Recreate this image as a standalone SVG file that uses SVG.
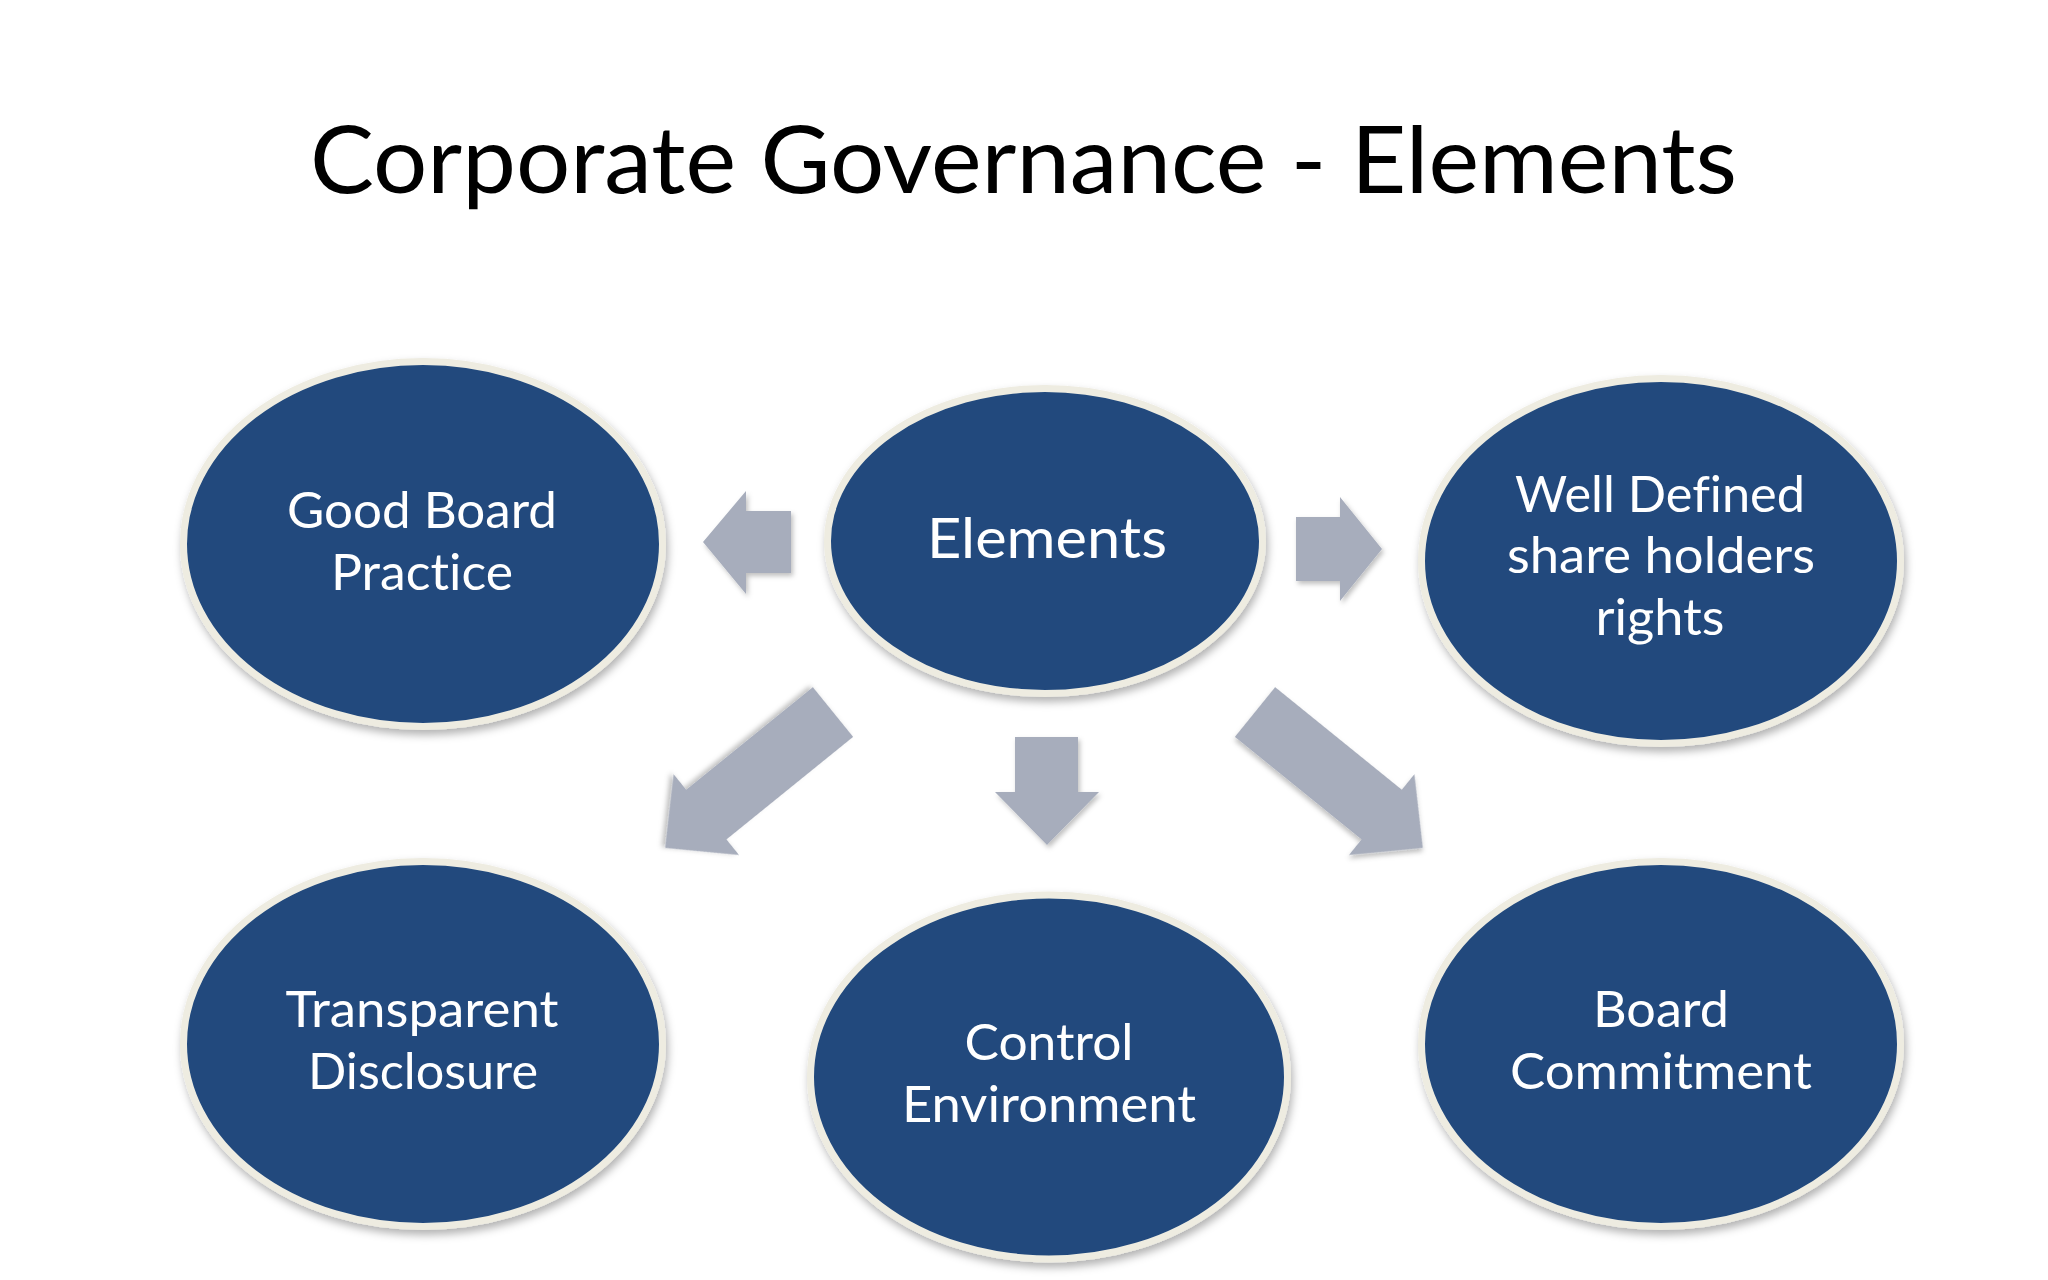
<svg xmlns="http://www.w3.org/2000/svg" width="2048" height="1280" viewBox="0 0 2048 1280">
  <defs>
    <filter id="shadow" x="-20%" y="-20%" width="140%" height="140%">
      <feDropShadow dx="2" dy="5" stdDeviation="4" flood-color="#000" flood-opacity="0.3"/>
    </filter>
    <filter id="ashadow" x="-20%" y="-20%" width="140%" height="140%">
      <feDropShadow dx="2" dy="3" stdDeviation="2.5" flood-color="#000" flood-opacity="0.25"/>
    </filter>
    <polygon id="diag" points="0,-32 163,-32 163,-52 216,0 163,52 163,32 0,32"/>
  </defs>
  <style>
    .node ellipse { fill: #21497D; stroke: #EEECE1; stroke-width: 7; filter: url(#shadow); }
    .lbl { font-family: Lato, "Open Sans", "Liberation Sans", sans-serif; fill: #FFFFFF; font-size: 50px; text-anchor: middle; font-variant-ligatures: none; font-feature-settings: "liga" 0, "clig" 0, "dlig" 0; }
    .big { font-size: 57px; }
    .title { font-family: Lato, "Open Sans", "Liberation Sans", sans-serif; fill: #000000; font-size: 93px; text-anchor: middle; font-variant-ligatures: none; font-feature-settings: "liga" 0, "clig" 0; }
    .arrow { fill: #A7ADBC; filter: url(#ashadow); }
  </style>
  <rect width="2048" height="1280" fill="#FFFFFF"/>

  <text class="title" x="1023.5" y="193" textLength="1427" lengthAdjust="spacingAndGlyphs">Corporate Governance - Elements</text>

  <g id="connectors">
    <polygon class="arrow" points="791,511 746,511 746,491 703,542 746,594 746,573 791,573"/>
    <polygon class="arrow" points="1296,517 1340,517 1340,497 1382,549 1340,601 1340,581 1296,581"/>
    <polygon class="arrow" points="1015,737 1078,737 1078,792 1099,792 1047,845 995,792 1015,792"/>
    <use class="arrow" href="#diag" transform="translate(833,712) rotate(141)"/>
    <use class="arrow" href="#diag" transform="translate(1255,712) rotate(39)"/>
  </g>

  <g id="node-good-board" class="node">
    <ellipse cx="423" cy="544" rx="239.5" ry="182.5"/>
    <text class="lbl" x="422" y="528" textLength="270" lengthAdjust="spacingAndGlyphs">Good Board</text>
    <text class="lbl" x="422" y="590" textLength="182" lengthAdjust="spacingAndGlyphs">Practice</text>
  </g>

  <g id="node-elements" class="node">
    <ellipse cx="1045" cy="541" rx="217.5" ry="152.5"/>
    <text class="lbl big" x="1047" y="558" textLength="240" lengthAdjust="spacingAndGlyphs">Elements</text>
  </g>

  <g id="node-well-defined" class="node">
    <ellipse cx="1661" cy="561" rx="239.5" ry="182.5"/>
    <text class="lbl" x="1660" y="512" textLength="290" lengthAdjust="spacingAndGlyphs">Well Defined</text>
    <text class="lbl" x="1661" y="573" textLength="308" lengthAdjust="spacingAndGlyphs">share holders</text>
    <text class="lbl" x="1660" y="635" textLength="129" lengthAdjust="spacingAndGlyphs">rights</text>
  </g>

  <g id="node-transparent" class="node">
    <ellipse cx="423" cy="1044" rx="239.5" ry="182.5"/>
    <text class="lbl" x="422" y="1027" textLength="273" lengthAdjust="spacingAndGlyphs">Transparent</text>
    <text class="lbl" x="423" y="1089" textLength="230" lengthAdjust="spacingAndGlyphs">Disclosure</text>
  </g>

  <g id="node-control" class="node">
    <ellipse cx="1049" cy="1077" rx="238.5" ry="182"/>
    <text class="lbl" x="1049" y="1060" textLength="169" lengthAdjust="spacingAndGlyphs">Control</text>
    <text class="lbl" x="1049" y="1122" textLength="294" lengthAdjust="spacingAndGlyphs">Environment</text>
  </g>

  <g id="node-board-commitment" class="node">
    <ellipse cx="1661" cy="1044" rx="239.5" ry="182.5"/>
    <text class="lbl" x="1661" y="1027" textLength="136" lengthAdjust="spacingAndGlyphs">Board</text>
    <text class="lbl" x="1661" y="1089" textLength="302" lengthAdjust="spacingAndGlyphs">Commitment</text>
  </g>
</svg>
